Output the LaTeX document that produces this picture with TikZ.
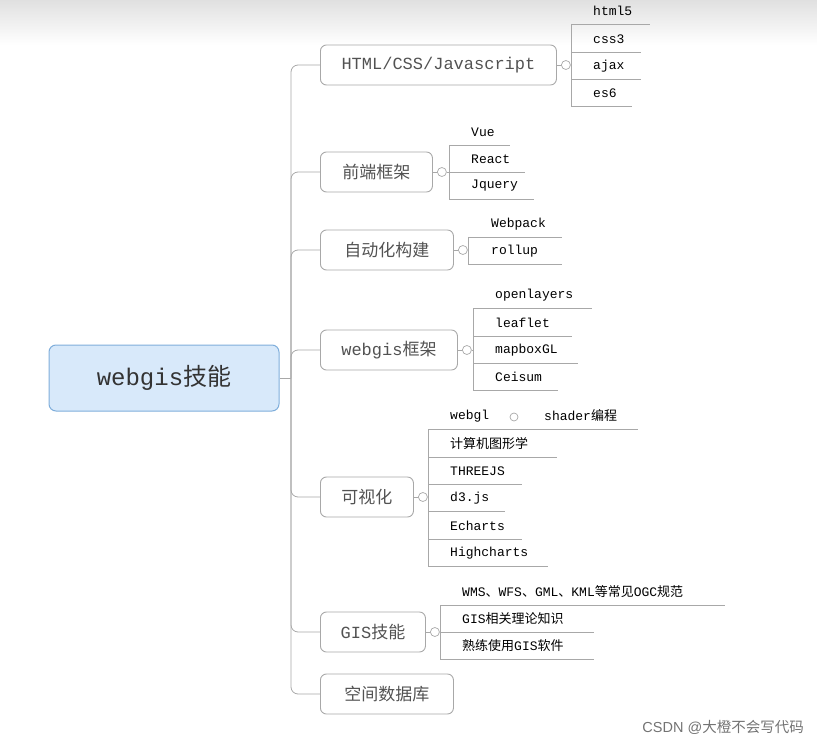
\documentclass[tikz,border=0pt]{standalone}
\usepackage{fontspec}
\setmainfont{Liberation Mono}
\newfontfamily\cjk{Noto Sans CJK SC}
\newfontfamily\sans{Liberation Sans}
\definecolor{lc}{HTML}{A8A8A8}
\definecolor{tc}{HTML}{333333}
\definecolor{rootf}{HTML}{D8E9FA}
\definecolor{rootd}{HTML}{7FAEDB}
\tikzset{
  br/.style={draw=lc, line width=0.9pt, rounded corners=6pt, minimum height=40pt, inner xsep=7pt, font=\fontsize{17}{17}\selectfont, text=tc!85, anchor=west},
  lv/.style={font=\fontsize{13}{13}\selectfont, text=black, anchor=west, inner sep=0pt},
  ln/.style={draw=lc, line width=0.8pt},
  mk/.style={circle, draw=lc, line width=0.7pt, minimum size=9pt, inner sep=0pt, fill=white}
}
\newcommand\lf[6]{% name, bracket x, line y, line end x, text, text x
  \node[lv] (#1) at (#6,#3-13) {#5};
  \draw[ln] (#2,#3) -- (#4,#3);
}
\begin{document}
\begin{tikzpicture}[x=1pt,y=1pt,yscale=-1]
\useasboundingbox (0,0) rectangle (817,746);
\shade[top color=black!12, bottom color=white] (0,0) rectangle (817,45);
% root
\node[draw=rootd, fill=rootf, line width=1pt, rounded corners=7pt, minimum width=230pt, minimum height=66pt, font=\fontsize{24}{24}\selectfont, text=tc] (root) at (164,378) {webgis{\cjk 技能}};
% branches
\node[br, minimum width=236pt] (b1) at (320,65) {HTML/CSS/Javascript};
\node[br, minimum width=112pt] (b2) at (320,172) {\cjk 前端框架};
\node[br, minimum width=133pt] (b3) at (320,250) {\cjk 自动化构建};
\node[br, minimum width=137pt] (b4) at (320,350) {webgis{\cjk 框架}};
\node[br, minimum width=93pt] (b5) at (320,497) {\cjk 可视化};
\node[br, minimum width=105pt] (b6) at (320,632) {GIS{\cjk 技能}};
\node[br, minimum width=133pt] (b7) at (320,694) {\cjk 空间数据库};
\coordinate (t) at (291,378);
\draw[ln] (root.east) -- (t);
\foreach \b in {b1,b2,b3,b4,b5,b6,b7}{
  \draw[ln, rounded corners=7pt] (\b.west) -| (t);
}
% markers & brackets
\foreach \b/\bx/\top/\bot in {b1/571/24/106, b2/449/145/199, b3/468/237/264, b4/473/308/390, b5/428/429/566, b6/440/605/659}{
  \node[mk] (m\b) at ([xshift=9pt]\b.east) {};
  \draw[ln] (\b.east) -- (m\b.west);
  \draw[ln] (m\b.east) -- (\bx,0|-\b.east);
  \draw[ln] (\bx,\top) -- (\bx,\bot);
}
% leaves 1
\lf{l11}{571}{24}{650}{html5}{593}
\lf{l12}{571}{52}{641}{css3}{593}
\lf{l13}{571}{79}{641}{ajax}{593}
\lf{l14}{571}{106}{632}{es6}{593}
% leaves 2
\lf{l21}{449}{145}{510}{Vue}{471}
\lf{l22}{449}{172}{525}{React}{471}
\lf{l23}{449}{199}{534}{Jquery}{471}
% leaves 3
\lf{l31}{468}{237}{562}{Webpack}{491}
\lf{l32}{468}{264}{562}{rollup}{491}
% leaves 4
\lf{l41}{473}{308}{592}{openlayers}{495}
\lf{l42}{473}{336}{572}{leaflet}{495}
\lf{l43}{473}{363}{578}{mapboxGL}{495}
\lf{l44}{473}{390}{558}{Ceisum}{495}
% leaves 5
\lf{l51}{428}{429}{638}{webgl}{450}
\node[mk, minimum size=8pt] (m51) at (514,417) {};
\node[lv] (l51b) at (544,416) {shader{\cjk 编程}};
\lf{l52}{428}{457}{557}{\cjk 计算机图形学}{450}
\lf{l53}{428}{484}{522}{THREEJS}{450}
\lf{l54}{428}{511}{505}{d3.js}{450}
\lf{l55}{428}{539}{522}{Echarts}{450}
\lf{l56}{428}{566}{548}{Highcharts}{450}
% leaves 6
\lf{l61}{440}{605}{725}{WMS{\cjk 、}WFS{\cjk 、}GML{\cjk 、}KML{\cjk 等常见}OGC{\cjk 规范}}{462}
\lf{l62}{440}{632}{594}{GIS{\cjk 相关理论知识}}{462}
\lf{l63}{440}{659}{594}{{\cjk 熟练使用}GIS{\cjk 软件}}{462}
% watermark
\node[anchor=east, text=black!55, font=\sans\fontsize{14.5}{14.5}\selectfont, inner sep=0pt] (wm) at (804,727) {CSDN @{\cjk 大橙不会写代码}};
\end{tikzpicture}
\end{document}
